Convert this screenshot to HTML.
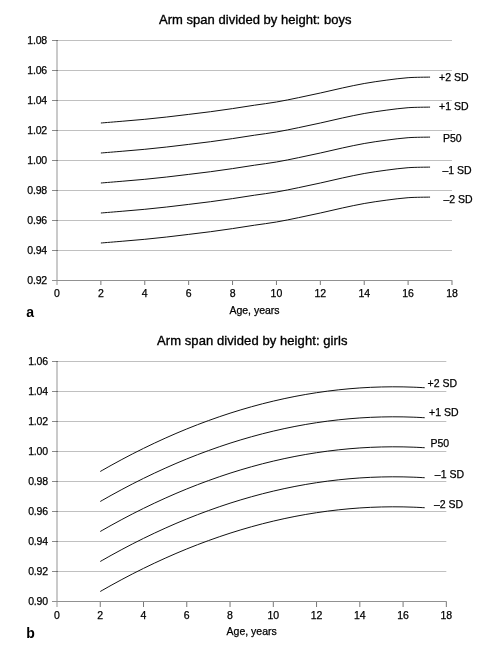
<!DOCTYPE html>
<html><head><meta charset="utf-8"><style>
html,body{margin:0;padding:0;background:#fff;}
svg{display:block;}
.l{font-family:'Liberation Sans',Arial,sans-serif;font-size:10.5px;fill:#000;stroke:#000;stroke-width:0.25px;}
.t{font-family:'Liberation Sans',Arial,sans-serif;font-size:13px;fill:#000;stroke:#000;stroke-width:0.35px;}
.b{font-family:'Liberation Sans',Arial,sans-serif;font-size:14px;font-weight:bold;fill:#000;}
</style></head><body>
<svg width="499" height="657" viewBox="0 0 499 657">
<rect width="499" height="657" fill="#fff"/>
<line x1="57" y1="40" x2="57" y2="285" stroke="#cacaca" stroke-width="2"/>
<line x1="58" y1="40.5" x2="451.99199999999996" y2="40.5" stroke="#c0c0c0" stroke-width="1"/>
<line x1="58" y1="70.5" x2="451.99199999999996" y2="70.5" stroke="#c0c0c0" stroke-width="1"/>
<line x1="58" y1="100.5" x2="451.99199999999996" y2="100.5" stroke="#c0c0c0" stroke-width="1"/>
<line x1="58" y1="130.5" x2="451.99199999999996" y2="130.5" stroke="#c0c0c0" stroke-width="1"/>
<line x1="58" y1="160.5" x2="451.99199999999996" y2="160.5" stroke="#c0c0c0" stroke-width="1"/>
<line x1="58" y1="190.5" x2="451.99199999999996" y2="190.5" stroke="#c0c0c0" stroke-width="1"/>
<line x1="58" y1="220.5" x2="451.99199999999996" y2="220.5" stroke="#c0c0c0" stroke-width="1"/>
<line x1="58" y1="250.5" x2="451.99199999999996" y2="250.5" stroke="#c0c0c0" stroke-width="1"/>
<line x1="52" y1="40.5" x2="58" y2="40.5" stroke="#8a8a8a" stroke-width="1"/>
<rect x="56" y="40.0" width="2" height="1" fill="#707070"/>
<line x1="52" y1="70.5" x2="58" y2="70.5" stroke="#8a8a8a" stroke-width="1"/>
<rect x="56" y="70.0" width="2" height="1" fill="#707070"/>
<line x1="52" y1="100.5" x2="58" y2="100.5" stroke="#8a8a8a" stroke-width="1"/>
<rect x="56" y="100.0" width="2" height="1" fill="#707070"/>
<line x1="52" y1="130.5" x2="58" y2="130.5" stroke="#8a8a8a" stroke-width="1"/>
<rect x="56" y="130.0" width="2" height="1" fill="#707070"/>
<line x1="52" y1="160.5" x2="58" y2="160.5" stroke="#8a8a8a" stroke-width="1"/>
<rect x="56" y="160.0" width="2" height="1" fill="#707070"/>
<line x1="52" y1="190.5" x2="58" y2="190.5" stroke="#8a8a8a" stroke-width="1"/>
<rect x="56" y="190.0" width="2" height="1" fill="#707070"/>
<line x1="52" y1="220.5" x2="58" y2="220.5" stroke="#8a8a8a" stroke-width="1"/>
<rect x="56" y="220.0" width="2" height="1" fill="#707070"/>
<line x1="52" y1="250.5" x2="58" y2="250.5" stroke="#8a8a8a" stroke-width="1"/>
<rect x="56" y="250.0" width="2" height="1" fill="#707070"/>
<line x1="52" y1="280.5" x2="58" y2="280.5" stroke="#8a8a8a" stroke-width="1"/>
<rect x="56" y="280.0" width="2" height="1" fill="#707070"/>
<line x1="52" y1="280.5" x2="452.49199999999996" y2="280.5" stroke="#919191" stroke-width="1"/>
<line x1="100.89" y1="281" x2="100.89" y2="285" stroke="#777" stroke-width="1"/>
<line x1="144.78" y1="281" x2="144.78" y2="285" stroke="#777" stroke-width="1"/>
<line x1="188.66" y1="281" x2="188.66" y2="285" stroke="#777" stroke-width="1"/>
<line x1="232.55" y1="281" x2="232.55" y2="285" stroke="#777" stroke-width="1"/>
<line x1="276.44" y1="281" x2="276.44" y2="285" stroke="#777" stroke-width="1"/>
<line x1="320.33" y1="281" x2="320.33" y2="285" stroke="#777" stroke-width="1"/>
<line x1="364.22" y1="281" x2="364.22" y2="285" stroke="#777" stroke-width="1"/>
<line x1="408.10" y1="281" x2="408.10" y2="285" stroke="#777" stroke-width="1"/>
<line x1="451.99" y1="281" x2="451.99" y2="285" stroke="#777" stroke-width="1"/>
<text x="47.0" y="43.8" text-anchor="end" class="l" letter-spacing="-0.2">1.08</text>
<text x="47.0" y="73.8" text-anchor="end" class="l" letter-spacing="-0.2">1.06</text>
<text x="47.0" y="103.8" text-anchor="end" class="l" letter-spacing="-0.2">1.04</text>
<text x="47.0" y="133.8" text-anchor="end" class="l" letter-spacing="-0.2">1.02</text>
<text x="47.0" y="163.8" text-anchor="end" class="l" letter-spacing="-0.2">1.00</text>
<text x="47.0" y="193.8" text-anchor="end" class="l" letter-spacing="-0.2">0.98</text>
<text x="47.0" y="223.8" text-anchor="end" class="l" letter-spacing="-0.2">0.96</text>
<text x="47.0" y="253.8" text-anchor="end" class="l" letter-spacing="-0.2">0.94</text>
<text x="47.0" y="283.8" text-anchor="end" class="l" letter-spacing="-0.2">0.92</text>
<text x="57.00" y="296.7" text-anchor="middle" class="l">0</text>
<text x="100.89" y="296.7" text-anchor="middle" class="l">2</text>
<text x="144.78" y="296.7" text-anchor="middle" class="l">4</text>
<text x="188.66" y="296.7" text-anchor="middle" class="l">6</text>
<text x="232.55" y="296.7" text-anchor="middle" class="l">8</text>
<text x="276.44" y="296.7" text-anchor="middle" class="l">10</text>
<text x="320.33" y="296.7" text-anchor="middle" class="l">12</text>
<text x="364.22" y="296.7" text-anchor="middle" class="l">14</text>
<text x="408.10" y="296.7" text-anchor="middle" class="l">16</text>
<text x="451.99" y="296.7" text-anchor="middle" class="l">18</text>
<text x="254.5" y="314" text-anchor="middle" class="l">Age, years</text>
<text x="159" y="24" class="t" letter-spacing="0.03">Arm span divided by height: boys</text>
<path d="M100.89,123.00 C104.55,122.70 115.52,121.82 122.83,121.20 C130.15,120.58 137.46,120.00 144.78,119.30 C152.09,118.60 159.41,117.82 166.72,117.00 C174.03,116.18 181.35,115.28 188.66,114.40 C195.98,113.52 203.29,112.67 210.61,111.70 C217.92,110.73 225.24,109.68 232.55,108.60 C239.87,107.52 247.18,106.30 254.50,105.20 C261.81,104.10 269.13,103.25 276.44,102.00 C283.75,100.75 291.07,99.20 298.38,97.70 C305.70,96.20 313.01,94.62 320.33,93.00 C327.64,91.38 334.96,89.58 342.27,88.00 C349.59,86.42 356.90,84.80 364.22,83.50 C371.53,82.20 378.85,81.17 386.16,80.20 C393.47,79.23 400.79,78.22 408.10,77.70 C415.42,77.18 426.39,77.20 430.05,77.10" fill="none" stroke="#111" stroke-width="1.0"/>
<path d="M100.89,153.00 C104.55,152.70 115.52,151.82 122.83,151.20 C130.15,150.58 137.46,150.00 144.78,149.30 C152.09,148.60 159.41,147.82 166.72,147.00 C174.03,146.18 181.35,145.28 188.66,144.40 C195.98,143.52 203.29,142.67 210.61,141.70 C217.92,140.73 225.24,139.68 232.55,138.60 C239.87,137.52 247.18,136.30 254.50,135.20 C261.81,134.10 269.13,133.25 276.44,132.00 C283.75,130.75 291.07,129.20 298.38,127.70 C305.70,126.20 313.01,124.62 320.33,123.00 C327.64,121.38 334.96,119.58 342.27,118.00 C349.59,116.42 356.90,114.80 364.22,113.50 C371.53,112.20 378.85,111.17 386.16,110.20 C393.47,109.23 400.79,108.22 408.10,107.70 C415.42,107.18 426.39,107.20 430.05,107.10" fill="none" stroke="#111" stroke-width="1.0"/>
<path d="M100.89,183.00 C104.55,182.70 115.52,181.82 122.83,181.20 C130.15,180.58 137.46,180.00 144.78,179.30 C152.09,178.60 159.41,177.82 166.72,177.00 C174.03,176.18 181.35,175.28 188.66,174.40 C195.98,173.52 203.29,172.67 210.61,171.70 C217.92,170.73 225.24,169.68 232.55,168.60 C239.87,167.52 247.18,166.30 254.50,165.20 C261.81,164.10 269.13,163.25 276.44,162.00 C283.75,160.75 291.07,159.20 298.38,157.70 C305.70,156.20 313.01,154.62 320.33,153.00 C327.64,151.38 334.96,149.58 342.27,148.00 C349.59,146.42 356.90,144.80 364.22,143.50 C371.53,142.20 378.85,141.17 386.16,140.20 C393.47,139.23 400.79,138.22 408.10,137.70 C415.42,137.18 426.39,137.20 430.05,137.10" fill="none" stroke="#111" stroke-width="1.0"/>
<path d="M100.89,213.00 C104.55,212.70 115.52,211.82 122.83,211.20 C130.15,210.58 137.46,210.00 144.78,209.30 C152.09,208.60 159.41,207.82 166.72,207.00 C174.03,206.18 181.35,205.28 188.66,204.40 C195.98,203.52 203.29,202.67 210.61,201.70 C217.92,200.73 225.24,199.68 232.55,198.60 C239.87,197.52 247.18,196.30 254.50,195.20 C261.81,194.10 269.13,193.25 276.44,192.00 C283.75,190.75 291.07,189.20 298.38,187.70 C305.70,186.20 313.01,184.62 320.33,183.00 C327.64,181.38 334.96,179.58 342.27,178.00 C349.59,176.42 356.90,174.80 364.22,173.50 C371.53,172.20 378.85,171.17 386.16,170.20 C393.47,169.23 400.79,168.22 408.10,167.70 C415.42,167.18 426.39,167.20 430.05,167.10" fill="none" stroke="#111" stroke-width="1.0"/>
<path d="M100.89,243.00 C104.55,242.70 115.52,241.82 122.83,241.20 C130.15,240.58 137.46,240.00 144.78,239.30 C152.09,238.60 159.41,237.82 166.72,237.00 C174.03,236.18 181.35,235.28 188.66,234.40 C195.98,233.52 203.29,232.67 210.61,231.70 C217.92,230.73 225.24,229.68 232.55,228.60 C239.87,227.52 247.18,226.30 254.50,225.20 C261.81,224.10 269.13,223.25 276.44,222.00 C283.75,220.75 291.07,219.20 298.38,217.70 C305.70,216.20 313.01,214.62 320.33,213.00 C327.64,211.38 334.96,209.58 342.27,208.00 C349.59,206.42 356.90,204.80 364.22,203.50 C371.53,202.20 378.85,201.17 386.16,200.20 C393.47,199.23 400.79,198.22 408.10,197.70 C415.42,197.18 426.39,197.20 430.05,197.10" fill="none" stroke="#111" stroke-width="1.0"/>
<text x="439" y="80.8" class="l">+2 SD</text>
<text x="439" y="110" class="l">+1 SD</text>
<text x="443" y="142" class="l">P50</text>
<text x="442.5" y="174" class="l">&#8211;1 SD</text>
<text x="443.5" y="203" class="l">&#8211;2 SD</text>
<text x="26.3" y="317" class="b">a</text>
<line x1="57" y1="361" x2="57" y2="607" stroke="#cacaca" stroke-width="2"/>
<line x1="58" y1="361.5" x2="446.34" y2="361.5" stroke="#c0c0c0" stroke-width="1"/>
<line x1="58" y1="391.5" x2="446.34" y2="391.5" stroke="#c0c0c0" stroke-width="1"/>
<line x1="58" y1="421.5" x2="446.34" y2="421.5" stroke="#c0c0c0" stroke-width="1"/>
<line x1="58" y1="451.5" x2="446.34" y2="451.5" stroke="#c0c0c0" stroke-width="1"/>
<line x1="58" y1="481.5" x2="446.34" y2="481.5" stroke="#c0c0c0" stroke-width="1"/>
<line x1="58" y1="511.5" x2="446.34" y2="511.5" stroke="#c0c0c0" stroke-width="1"/>
<line x1="58" y1="541.5" x2="446.34" y2="541.5" stroke="#c0c0c0" stroke-width="1"/>
<line x1="58" y1="571.5" x2="446.34" y2="571.5" stroke="#c0c0c0" stroke-width="1"/>
<line x1="52" y1="361.5" x2="58" y2="361.5" stroke="#8a8a8a" stroke-width="1"/>
<rect x="56" y="361.0" width="2" height="1" fill="#707070"/>
<line x1="52" y1="391.5" x2="58" y2="391.5" stroke="#8a8a8a" stroke-width="1"/>
<rect x="56" y="391.0" width="2" height="1" fill="#707070"/>
<line x1="52" y1="421.5" x2="58" y2="421.5" stroke="#8a8a8a" stroke-width="1"/>
<rect x="56" y="421.0" width="2" height="1" fill="#707070"/>
<line x1="52" y1="451.5" x2="58" y2="451.5" stroke="#8a8a8a" stroke-width="1"/>
<rect x="56" y="451.0" width="2" height="1" fill="#707070"/>
<line x1="52" y1="481.5" x2="58" y2="481.5" stroke="#8a8a8a" stroke-width="1"/>
<rect x="56" y="481.0" width="2" height="1" fill="#707070"/>
<line x1="52" y1="511.5" x2="58" y2="511.5" stroke="#8a8a8a" stroke-width="1"/>
<rect x="56" y="511.0" width="2" height="1" fill="#707070"/>
<line x1="52" y1="541.5" x2="58" y2="541.5" stroke="#8a8a8a" stroke-width="1"/>
<rect x="56" y="541.0" width="2" height="1" fill="#707070"/>
<line x1="52" y1="571.5" x2="58" y2="571.5" stroke="#8a8a8a" stroke-width="1"/>
<rect x="56" y="571.0" width="2" height="1" fill="#707070"/>
<line x1="52" y1="601.5" x2="58" y2="601.5" stroke="#8a8a8a" stroke-width="1"/>
<rect x="56" y="601.0" width="2" height="1" fill="#707070"/>
<line x1="52" y1="601.5" x2="446.84" y2="601.5" stroke="#919191" stroke-width="1"/>
<line x1="100.26" y1="602" x2="100.26" y2="607" stroke="#777" stroke-width="1"/>
<line x1="143.52" y1="602" x2="143.52" y2="607" stroke="#777" stroke-width="1"/>
<line x1="186.78" y1="602" x2="186.78" y2="607" stroke="#777" stroke-width="1"/>
<line x1="230.04" y1="602" x2="230.04" y2="607" stroke="#777" stroke-width="1"/>
<line x1="273.30" y1="602" x2="273.30" y2="607" stroke="#777" stroke-width="1"/>
<line x1="316.56" y1="602" x2="316.56" y2="607" stroke="#777" stroke-width="1"/>
<line x1="359.82" y1="602" x2="359.82" y2="607" stroke="#777" stroke-width="1"/>
<line x1="403.08" y1="602" x2="403.08" y2="607" stroke="#777" stroke-width="1"/>
<line x1="446.34" y1="602" x2="446.34" y2="607" stroke="#777" stroke-width="1"/>
<text x="47.8" y="364.9" text-anchor="end" class="l" letter-spacing="-0.2">1.06</text>
<text x="47.8" y="394.9" text-anchor="end" class="l" letter-spacing="-0.2">1.04</text>
<text x="47.8" y="424.9" text-anchor="end" class="l" letter-spacing="-0.2">1.02</text>
<text x="47.8" y="454.9" text-anchor="end" class="l" letter-spacing="-0.2">1.00</text>
<text x="47.8" y="484.9" text-anchor="end" class="l" letter-spacing="-0.2">0.98</text>
<text x="47.8" y="514.9" text-anchor="end" class="l" letter-spacing="-0.2">0.96</text>
<text x="47.8" y="544.9" text-anchor="end" class="l" letter-spacing="-0.2">0.94</text>
<text x="47.8" y="574.9" text-anchor="end" class="l" letter-spacing="-0.2">0.92</text>
<text x="47.8" y="604.9" text-anchor="end" class="l" letter-spacing="-0.2">0.90</text>
<text x="57.00" y="618.8" text-anchor="middle" class="l">0</text>
<text x="100.26" y="618.8" text-anchor="middle" class="l">2</text>
<text x="143.52" y="618.8" text-anchor="middle" class="l">4</text>
<text x="186.78" y="618.8" text-anchor="middle" class="l">6</text>
<text x="230.04" y="618.8" text-anchor="middle" class="l">8</text>
<text x="273.30" y="618.8" text-anchor="middle" class="l">10</text>
<text x="316.56" y="618.8" text-anchor="middle" class="l">12</text>
<text x="359.82" y="618.8" text-anchor="middle" class="l">14</text>
<text x="403.08" y="618.8" text-anchor="middle" class="l">16</text>
<text x="446.34" y="618.8" text-anchor="middle" class="l">18</text>
<text x="251.7" y="635" text-anchor="middle" class="l">Age, years</text>
<text x="157" y="344.5" class="t" letter-spacing="0.08">Arm span divided by height: girls</text>
<path d="M100.26,471.49 C102.06,470.47 107.47,467.37 111.07,465.37 C114.68,463.36 118.28,461.40 121.89,459.48 C125.49,457.55 129.10,455.66 132.70,453.81 C136.31,451.96 139.91,450.15 143.52,448.38 C147.12,446.61 150.73,444.88 154.33,443.18 C157.94,441.48 161.54,439.83 165.15,438.21 C168.75,436.59 172.36,435.01 175.96,433.46 C179.57,431.92 183.17,430.42 186.78,428.95 C190.38,427.48 193.99,426.06 197.59,424.67 C201.20,423.28 204.80,421.92 208.41,420.61 C212.01,419.30 215.62,418.02 219.22,416.79 C222.83,415.55 226.44,414.35 230.04,413.19 C233.64,412.03 237.25,410.91 240.85,409.83 C244.46,408.74 248.06,407.70 251.67,406.69 C255.27,405.68 258.88,404.71 262.49,403.78 C266.09,402.85 269.69,401.96 273.30,401.11 C276.90,400.25 280.51,399.44 284.12,398.66 C287.72,397.88 291.32,397.14 294.93,396.44 C298.53,395.74 302.14,395.08 305.75,394.45 C309.35,393.83 312.95,393.24 316.56,392.69 C320.16,392.14 323.77,391.64 327.38,391.16 C330.98,390.69 334.58,390.26 338.19,389.86 C341.79,389.47 345.40,389.11 349.00,388.79 C352.61,388.48 356.21,388.20 359.82,387.95 C363.43,387.71 367.03,387.51 370.63,387.34 C374.24,387.18 377.84,387.05 381.45,386.96 C385.06,386.87 388.66,386.82 392.26,386.81 C395.87,386.80 399.47,386.82 403.08,386.89 C406.69,386.95 410.29,387.05 413.89,387.19 C417.50,387.34 422.91,387.64 424.71,387.73" fill="none" stroke="#111" stroke-width="1.0"/>
<path d="M100.26,501.49 C102.06,500.47 107.47,497.37 111.07,495.37 C114.68,493.36 118.28,491.40 121.89,489.48 C125.49,487.55 129.10,485.66 132.70,483.81 C136.31,481.96 139.91,480.15 143.52,478.38 C147.12,476.61 150.73,474.88 154.33,473.18 C157.94,471.48 161.54,469.83 165.15,468.21 C168.75,466.59 172.36,465.01 175.96,463.46 C179.57,461.92 183.17,460.42 186.78,458.95 C190.38,457.48 193.99,456.06 197.59,454.67 C201.20,453.28 204.80,451.92 208.41,450.61 C212.01,449.30 215.62,448.02 219.22,446.79 C222.83,445.55 226.44,444.35 230.04,443.19 C233.64,442.03 237.25,440.91 240.85,439.83 C244.46,438.74 248.06,437.70 251.67,436.69 C255.27,435.68 258.88,434.71 262.49,433.78 C266.09,432.85 269.69,431.96 273.30,431.11 C276.90,430.25 280.51,429.44 284.12,428.66 C287.72,427.88 291.32,427.14 294.93,426.44 C298.53,425.74 302.14,425.08 305.75,424.45 C309.35,423.83 312.95,423.24 316.56,422.69 C320.16,422.14 323.77,421.64 327.38,421.16 C330.98,420.69 334.58,420.26 338.19,419.86 C341.79,419.47 345.40,419.11 349.00,418.79 C352.61,418.48 356.21,418.20 359.82,417.95 C363.43,417.71 367.03,417.51 370.63,417.34 C374.24,417.18 377.84,417.05 381.45,416.96 C385.06,416.87 388.66,416.82 392.26,416.81 C395.87,416.80 399.47,416.82 403.08,416.89 C406.69,416.95 410.29,417.05 413.89,417.19 C417.50,417.34 422.91,417.64 424.71,417.73" fill="none" stroke="#111" stroke-width="1.0"/>
<path d="M100.26,531.49 C102.06,530.47 107.47,527.37 111.07,525.37 C114.68,523.36 118.28,521.40 121.89,519.48 C125.49,517.55 129.10,515.66 132.70,513.81 C136.31,511.96 139.91,510.15 143.52,508.38 C147.12,506.61 150.73,504.88 154.33,503.18 C157.94,501.48 161.54,499.83 165.15,498.21 C168.75,496.59 172.36,495.01 175.96,493.46 C179.57,491.92 183.17,490.42 186.78,488.95 C190.38,487.48 193.99,486.06 197.59,484.67 C201.20,483.28 204.80,481.92 208.41,480.61 C212.01,479.30 215.62,478.02 219.22,476.79 C222.83,475.55 226.44,474.35 230.04,473.19 C233.64,472.03 237.25,470.91 240.85,469.83 C244.46,468.74 248.06,467.70 251.67,466.69 C255.27,465.68 258.88,464.71 262.49,463.78 C266.09,462.85 269.69,461.96 273.30,461.11 C276.90,460.25 280.51,459.44 284.12,458.66 C287.72,457.88 291.32,457.14 294.93,456.44 C298.53,455.74 302.14,455.08 305.75,454.45 C309.35,453.83 312.95,453.24 316.56,452.69 C320.16,452.14 323.77,451.64 327.38,451.16 C330.98,450.69 334.58,450.26 338.19,449.86 C341.79,449.47 345.40,449.11 349.00,448.79 C352.61,448.48 356.21,448.20 359.82,447.95 C363.43,447.71 367.03,447.51 370.63,447.34 C374.24,447.18 377.84,447.05 381.45,446.96 C385.06,446.87 388.66,446.82 392.26,446.81 C395.87,446.80 399.47,446.82 403.08,446.89 C406.69,446.95 410.29,447.05 413.89,447.19 C417.50,447.34 422.91,447.64 424.71,447.73" fill="none" stroke="#111" stroke-width="1.0"/>
<path d="M100.26,561.49 C102.06,560.47 107.47,557.37 111.07,555.37 C114.68,553.36 118.28,551.40 121.89,549.48 C125.49,547.55 129.10,545.66 132.70,543.81 C136.31,541.96 139.91,540.15 143.52,538.38 C147.12,536.61 150.73,534.88 154.33,533.18 C157.94,531.48 161.54,529.83 165.15,528.21 C168.75,526.59 172.36,525.01 175.96,523.46 C179.57,521.92 183.17,520.42 186.78,518.95 C190.38,517.48 193.99,516.06 197.59,514.67 C201.20,513.28 204.80,511.92 208.41,510.61 C212.01,509.30 215.62,508.02 219.22,506.79 C222.83,505.55 226.44,504.35 230.04,503.19 C233.64,502.03 237.25,500.91 240.85,499.83 C244.46,498.74 248.06,497.70 251.67,496.69 C255.27,495.68 258.88,494.71 262.49,493.78 C266.09,492.85 269.69,491.96 273.30,491.11 C276.90,490.25 280.51,489.44 284.12,488.66 C287.72,487.88 291.32,487.14 294.93,486.44 C298.53,485.74 302.14,485.08 305.75,484.45 C309.35,483.83 312.95,483.24 316.56,482.69 C320.16,482.14 323.77,481.64 327.38,481.16 C330.98,480.69 334.58,480.26 338.19,479.86 C341.79,479.47 345.40,479.11 349.00,478.79 C352.61,478.48 356.21,478.20 359.82,477.95 C363.43,477.71 367.03,477.51 370.63,477.34 C374.24,477.18 377.84,477.05 381.45,476.96 C385.06,476.87 388.66,476.82 392.26,476.81 C395.87,476.80 399.47,476.82 403.08,476.89 C406.69,476.95 410.29,477.05 413.89,477.19 C417.50,477.34 422.91,477.64 424.71,477.73" fill="none" stroke="#111" stroke-width="1.0"/>
<path d="M100.26,591.49 C102.06,590.47 107.47,587.37 111.07,585.37 C114.68,583.36 118.28,581.40 121.89,579.48 C125.49,577.55 129.10,575.66 132.70,573.81 C136.31,571.96 139.91,570.15 143.52,568.38 C147.12,566.61 150.73,564.88 154.33,563.18 C157.94,561.48 161.54,559.83 165.15,558.21 C168.75,556.59 172.36,555.01 175.96,553.46 C179.57,551.92 183.17,550.42 186.78,548.95 C190.38,547.48 193.99,546.06 197.59,544.67 C201.20,543.28 204.80,541.92 208.41,540.61 C212.01,539.30 215.62,538.02 219.22,536.79 C222.83,535.55 226.44,534.35 230.04,533.19 C233.64,532.03 237.25,530.91 240.85,529.83 C244.46,528.74 248.06,527.70 251.67,526.69 C255.27,525.68 258.88,524.71 262.49,523.78 C266.09,522.85 269.69,521.96 273.30,521.11 C276.90,520.25 280.51,519.44 284.12,518.66 C287.72,517.88 291.32,517.14 294.93,516.44 C298.53,515.74 302.14,515.08 305.75,514.45 C309.35,513.83 312.95,513.24 316.56,512.69 C320.16,512.14 323.77,511.64 327.38,511.16 C330.98,510.69 334.58,510.26 338.19,509.86 C341.79,509.47 345.40,509.11 349.00,508.79 C352.61,508.48 356.21,508.20 359.82,507.95 C363.43,507.71 367.03,507.51 370.63,507.34 C374.24,507.18 377.84,507.05 381.45,506.96 C385.06,506.87 388.66,506.82 392.26,506.81 C395.87,506.80 399.47,506.82 403.08,506.89 C406.69,506.95 410.29,507.05 413.89,507.19 C417.50,507.34 422.91,507.64 424.71,507.73" fill="none" stroke="#111" stroke-width="1.0"/>
<text x="427.5" y="387" class="l">+2 SD</text>
<text x="429" y="416" class="l">+1 SD</text>
<text x="430.5" y="447" class="l">P50</text>
<text x="434.8" y="478" class="l">&#8211;1 SD</text>
<text x="434" y="508" class="l">&#8211;2 SD</text>
<text x="26.3" y="638" class="b">b</text>
</svg>
</body></html>
